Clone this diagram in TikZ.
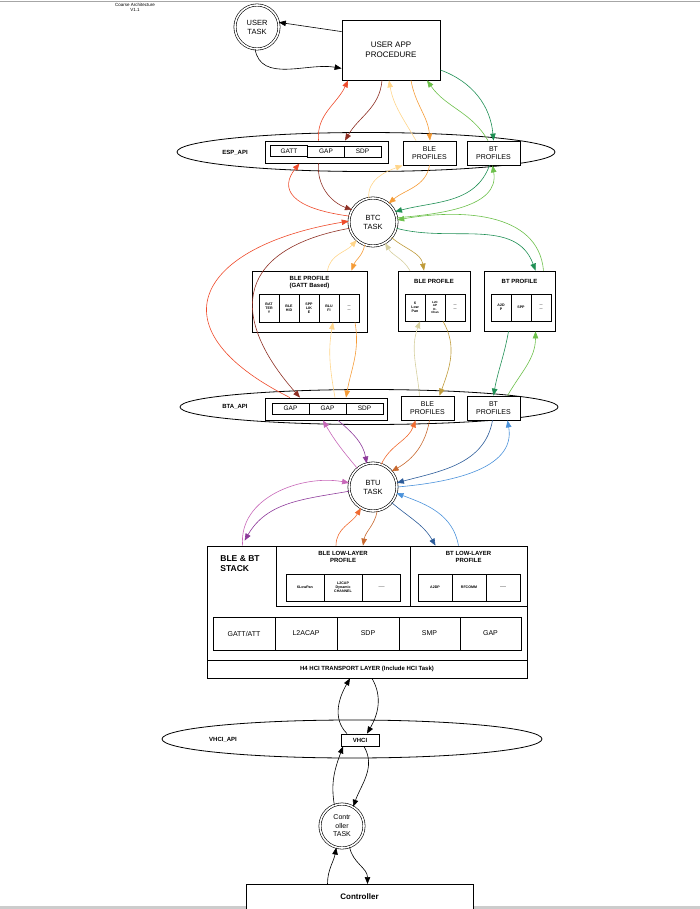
\documentclass[tikz,border=0pt]{standalone}
\usepackage{fontspec}
\setmainfont{Liberation Sans}
\usetikzlibrary{arrows.meta,shapes.geometric}
\definecolor{cRed}{HTML}{EE4B2B}\definecolor{cDRed}{HTML}{8E2F24}
\definecolor{cLY}{HTML}{FFD58A}\definecolor{cOr}{HTML}{F59B36}
\definecolor{cDG}{HTML}{1F8F54}\definecolor{cLG}{HTML}{6CC04A}
\definecolor{cKh}{HTML}{D6D0A0}\definecolor{cOl}{HTML}{BF9B3A}
\definecolor{cPk}{HTML}{C767B8}\definecolor{cPu}{HTML}{8E3A9B}
\definecolor{cOrB}{HTML}{F06A2F}\definecolor{cBO}{HTML}{C8692F}
\definecolor{cDB}{HTML}{2B5B99}\definecolor{cLB}{HTML}{4B92DB}
\begin{document}
\begin{tikzpicture}[x=1pt,y=1pt,
  box/.style={draw,line width=0.8pt,fill=white,inner sep=0pt,align=center,font=\fontsize{7}{8}\selectfont},
  cell/.style={draw,line width=0.6pt,inner sep=0pt,align=center,font=\fontsize{3.6}{4}\selectfont\bfseries,minimum width=20,minimum height=28},
  lcell/.style={draw,line width=0.6pt,inner sep=0pt,align=center,font=\fontsize{6.5}{7}\selectfont,minimum width=37,minimum height=11},
  task/.style={circle,draw,double,double distance=1.6pt,line width=0.6pt,align=center,inner sep=0pt,font=\fontsize{7.5}{9}\selectfont},
  api/.style={ellipse,draw,line width=0.8pt,inner sep=0pt},
  lbl/.style={font=\fontsize{6}{7}\selectfont\bfseries},
  ttl/.style={font=\fontsize{6}{7}\selectfont\bfseries,align=center},
  ar/.style={-{Triangle[length=7pt,width=5.5pt]},line width=0.6pt}]
\useasboundingbox (0,0) rectangle (700,-909);
\draw[gray!70,line width=1pt] (0,-1.5) -- (700,-1.5);
\draw[gray!40,line width=3pt] (0,-907.5) -- (700,-907.5);
\node[font=\fontsize{4.5}{5}\selectfont,align=center] (title) at (135,-7) {Coarse Architecture\\V1.1};
% top
\node[task,minimum size=44] (utask) at (257,-27) {USER\\TASK};
\node[box,minimum width=98,minimum height=60,font=\fontsize{8}{10}\selectfont] (app) at (391,-50) {USER APP\\PROCEDURE};
% ESP API
\node[api,minimum width=378,minimum height=39] (esp) at (366,-152) {};
\node[lbl] (esplbl) at (235,-153) {ESP\_API};
\node[box,minimum width=123,minimum height=22] (espbox) at (326.5,-152) {};
\node[lcell,line width=1pt] (espgatt) at (289,-151.5) {GATT};
\node[lcell] (espgap) at (326,-151.5) {GAP};
\node[lcell] (espsdp) at (362.5,-151.5) {SDP};
\node[box,minimum width=53,minimum height=24] (espble) at (429.5,-153) {BLE\\PROFILES};
\node[box,minimum width=53,minimum height=24] (espbt) at (493.5,-153) {BT\\PROFILES};
% BTC
\node[task,minimum size=48] (btc) at (373,-222) {BTC\\TASK};
% profiles
\node[box,minimum width=115,minimum height=61] (gattP) at (309.5,-301.5) {};
\node[ttl] (gattT) at (309.5,-283) {BLE PROFILE\\(GATT Based)};
\node[cell] (g1) at (269,-308) {BAT\\TER\\Y};
\node[cell] (g2) at (289,-308) {BLE\\HID};
\node[cell] (g3) at (309,-308) {SPP\\LIK\\E};
\node[cell] (g4) at (329,-308) {BLU\\FI};
\node[cell] (g5) at (349,-308) {...\\...};
\node[box,minimum width=72,minimum height=60] (bleP) at (434,-301) {};
\node[ttl] (bleT) at (434,-281) {BLE PROFILE};
\node[cell,minimum height=27] (b1) at (415,-307.5) {6\\Low\\Pan};
\node[cell,minimum height=27,font=\fontsize{3}{3.6}\selectfont\bfseries] (b2) at (435,-307.5) {L2C\\AP\\D-\\Chan};
\node[cell,minimum height=27] (b3) at (455,-307.5) {...\\...};
\node[box,minimum width=71,minimum height=60] (btP) at (519.5,-301) {};
\node[ttl] (btT) at (519.5,-281) {BT PROFILE};
\node[cell,minimum height=27] (t1) at (501,-307.5) {A2D\\P};
\node[cell,minimum height=27] (t2) at (521,-307.5) {SPP};
\node[cell,minimum height=27] (t3) at (541,-307.5) {...\\...};
% BTA API
\node[api,minimum width=378,minimum height=35] (bta) at (369,-407) {};
\node[lbl] (btalbl) at (235,-407) {BTA\_API};
\node[box,minimum width=122,minimum height=22] (btaBox) at (326,-409) {};
\node[lcell,line width=1pt] (bgap1) at (290.5,-408.5) {GAP};
\node[lcell] (bgap2) at (327.5,-408.5) {GAP};
\node[lcell] (bsdp) at (364.5,-408.5) {SDP};
\node[box,minimum width=53,minimum height=24] (btaBleP) at (427.5,-408) {BLE\\PROFILES};
\node[box,minimum width=53,minimum height=24] (btaBtP) at (493.5,-408) {BT\\PROFILES};
% BTU
\node[task,minimum size=48] (btu) at (373,-487) {BTU\\TASK};
% stack
\node[box,minimum width=320,minimum height=132] (stack) at (367,-612) {};
\node[box,minimum width=320,minimum height=18,font=\fontsize{6}{7}\selectfont\bfseries] (h4) at (367,-669) {H4 HCI TRANSPORT LAYER (Include HCI Task)};
\node[font=\fontsize{8.5}{10}\selectfont\bfseries,align=left] (stlbl) at (240,-564) {BLE \& BT\\STACK};
\node[box,minimum width=134,minimum height=60] (bleLow) at (343,-576) {};
\node[ttl] (bleLowT) at (343,-557) {BLE LOW-LAYER\\PROFILE};
\node[cell,minimum width=38,minimum height=27] (l1) at (305,-587.5) {6LowPan};
\node[cell,minimum width=38,minimum height=27] (l2) at (343,-587.5) {L2CAP\\Dynamic\\CHANNEL};
\node[cell,minimum width=38,minimum height=27] (l3) at (381.5,-587.5) {......};
\node[box,minimum width=117,minimum height=60] (btLow) at (468.5,-576) {};
\node[ttl] (btLowT) at (468.5,-557) {BT LOW-LAYER\\PROFILE};
\node[cell,minimum width=34,minimum height=27] (m1) at (435,-587.5) {A2DP};
\node[cell,minimum width=34,minimum height=27] (m2) at (469,-587.5) {RFCOMM};
\node[cell,minimum width=34,minimum height=27] (m3) at (503,-587.5) {......};
\node[box,minimum width=62,minimum height=33] (r1) at (244,-633.5) {GATT/ATT};
\node[box,minimum width=62,minimum height=33] (r2) at (306,-633.5) {L2ACAP};
\node[box,minimum width=62,minimum height=33] (r3) at (368,-633.5) {SDP};
\node[box,minimum width=61,minimum height=33] (r4) at (429.5,-633.5) {SMP};
\node[box,minimum width=61,minimum height=33] (r5) at (490.5,-633.5) {GAP};
% VHCI
\node[api,minimum width=380,minimum height=38] (vapi) at (352,-739) {};
\node[lbl] (vlbl) at (223,-740) {VHCI\_API};
\node[box,minimum width=38,minimum height=12,font=\fontsize{6}{7}\selectfont\bfseries] (vhci) at (360,-740) {VHCI};
\node[task,minimum size=44,font=\fontsize{7}{8.5}\selectfont] (ctask) at (342,-826) {Contr\\oller\\TASK};
\node[box,minimum width=227,minimum height=30,font=\fontsize{8}{9}\selectfont\bfseries,anchor=north] (ctrl) at (359.5,-884) {};
\node[font=\fontsize{8}{9}\selectfont\bfseries] (ctrlT) at (359.5,-897) {Controller};
% top arrows
\draw[ar] ([yshift=-12]app.north west) -- (utask.12);
\draw[ar] (utask.-95) to[out=-80,in=170] ([yshift=12]app.south west);
\draw[ar,cRed] ([xshift=-8]espbox.north) to[out=95,in=-115] ([xshift=-43]app.south);
\draw[ar,cDRed] ([xshift=-9]app.south) to[out=-95,in=60] ([xshift=18.5]espbox.north);
\draw[ar,cLY] ([xshift=-13.5]espble.north) to[out=120,in=-80] ([xshift=-2]app.south);
\draw[ar,cOr] ([xshift=20]app.south) to[out=-80,in=95] ([xshift=0.5]espble.north);
\draw[ar,cLG] ([xshift=-5.5]espbt.north) to[out=120,in=-55] ([xshift=36]app.south);
\draw[ar,cDG] ([yshift=-20]app.east) to[out=-20,in=95] (espbt.north);
% ESP - BTC
\draw[ar,cRed] (btc.166) .. controls +(-60,8) and +(-20,-25) .. ([xshift=-27]espbox.south);
\draw[ar,cDRed] ([xshift=-8]espbox.south) to[out=-95,in=160] (btc.150);
\draw[ar,cLY] (btc.100) to[out=95,in=-160] (espble.south west);
\draw[ar,cOr] (espble.south) to[out=-100,in=40] (btc.50);
\draw[ar,cDG] ([xshift=-4]espbt.south) to[out=-110,in=15] (btc.25);
\draw[ar,cLG] (btc.10) to[out=5,in=-80] ([xshift=-1]espbt.south);
% BTC - BTA long
\draw[ar,cRed] ([xshift=-36]btaBox.north) .. controls +(-140,70) and +(-150,-25) .. (btc.178);
\draw[ar,cDRed] (btc.195) .. controls +(-110,-20) and +(-75,85) .. ([xshift=-26]btaBox.north);
% BTC - profiles
\draw[ar,cLY] ([xshift=18]gattP.north) to[out=80,in=228] (btc.228);
\draw[ar,cOr] (btc.250) to[out=260,in=70] ([xshift=42]gattP.north);
\draw[ar,cKh] ([xshift=-24]bleP.north) to[out=120,in=-60] (btc.300);
\draw[ar,cOl] (btc.320) to[out=-40,in=100] ([xshift=-10]bleP.north);
\draw[ar,cDG] (btc.345) to[out=-15,in=110] ([xshift=16]btP.north);
\draw[ar,cLG] ([xshift=24]btP.north) to[out=95,in=10] (btc.5);
% profiles - BTA
\draw[ar,cLY] ([xshift=9]btaBox.north) to[out=100,in=-100] ([xshift=4]g4.south);
\draw[ar,cOr] ([xshift=6]g5.south) to[out=-80,in=80] ([xshift=20]btaBox.north);
\draw[ar,cKh] ([xshift=-8]btaBleP.north) to[out=95,in=-110] ([xshift=5]b1.south);
\draw[ar,cOl] ([xshift=8]b2.south) to[out=-60,in=70] ([xshift=12]btaBleP.north);
\draw[ar,cDG] ([xshift=-11]btP.south) to[out=-100,in=80] (btaBtP.north);
\draw[ar,cLG] ([xshift=14]btaBtP.north) to[out=60,in=-90] ([xshift=16]btP.south);
% BTA - BTU
\draw[ar,cPk] (btu.130) to[out=130,in=-60] ([xshift=-3]btaBox.south);
\draw[ar,cPu] ([xshift=12]btaBox.south) to[out=-40,in=100] (btu.105);
\draw[ar,cOrB] (btu.70) to[out=65,in=-110] ([xshift=-12]btaBleP.south);
\draw[ar,cBO] ([xshift=2]btaBleP.south) to[out=-100,in=30] (btu.40);
\draw[ar,cDB] ([xshift=-1]btaBtP.south) to[out=-100,in=15] (btu.10);
\draw[ar,cLB] (btu.0) to[out=5,in=-80] ([xshift=14]btaBtP.south);
% BTU - stack
\draw[ar,cPk] ([xshift=36]stack.north west) to[out=95,in=170] (btu.170);
\draw[ar,cPu] (btu.190) to[out=190,in=60] ([xshift=38,yshift=5]stack.north west);
\draw[ar,cOrB] ([xshift=-7]bleLow.north) to[out=90,in=240] (btu.240);
\draw[ar,cBO] (btu.280) to[out=-100,in=80] ([xshift=20]bleLow.north);
\draw[ar,cDB] (btu.320) to[out=-40,in=120] ([xshift=-33]btLow.north);
\draw[ar,cLB] ([xshift=-10]btLow.north) to[out=100,in=-20] (btu.345);
% lower
\draw[ar] ([xshift=-13]vhci.north) to[out=135,in=-120] ([xshift=-17]h4.south);
\draw[ar] ([xshift=5]h4.south) to[out=-60,in=60] ([xshift=7]vhci.north);
\draw[ar] (ctask.110) to[out=100,in=-110] ([xshift=-17]vhci.south);
\draw[ar] ([xshift=4]vhci.south) to[out=-60,in=70] (ctask.60);
\draw[ar] ([xshift=-32]ctrl.north) to[out=90,in=-100] (ctask.255);
\draw[ar] (ctask.290) to[out=-80,in=90] ([xshift=8]ctrl.north);
\end{tikzpicture}
\end{document}
